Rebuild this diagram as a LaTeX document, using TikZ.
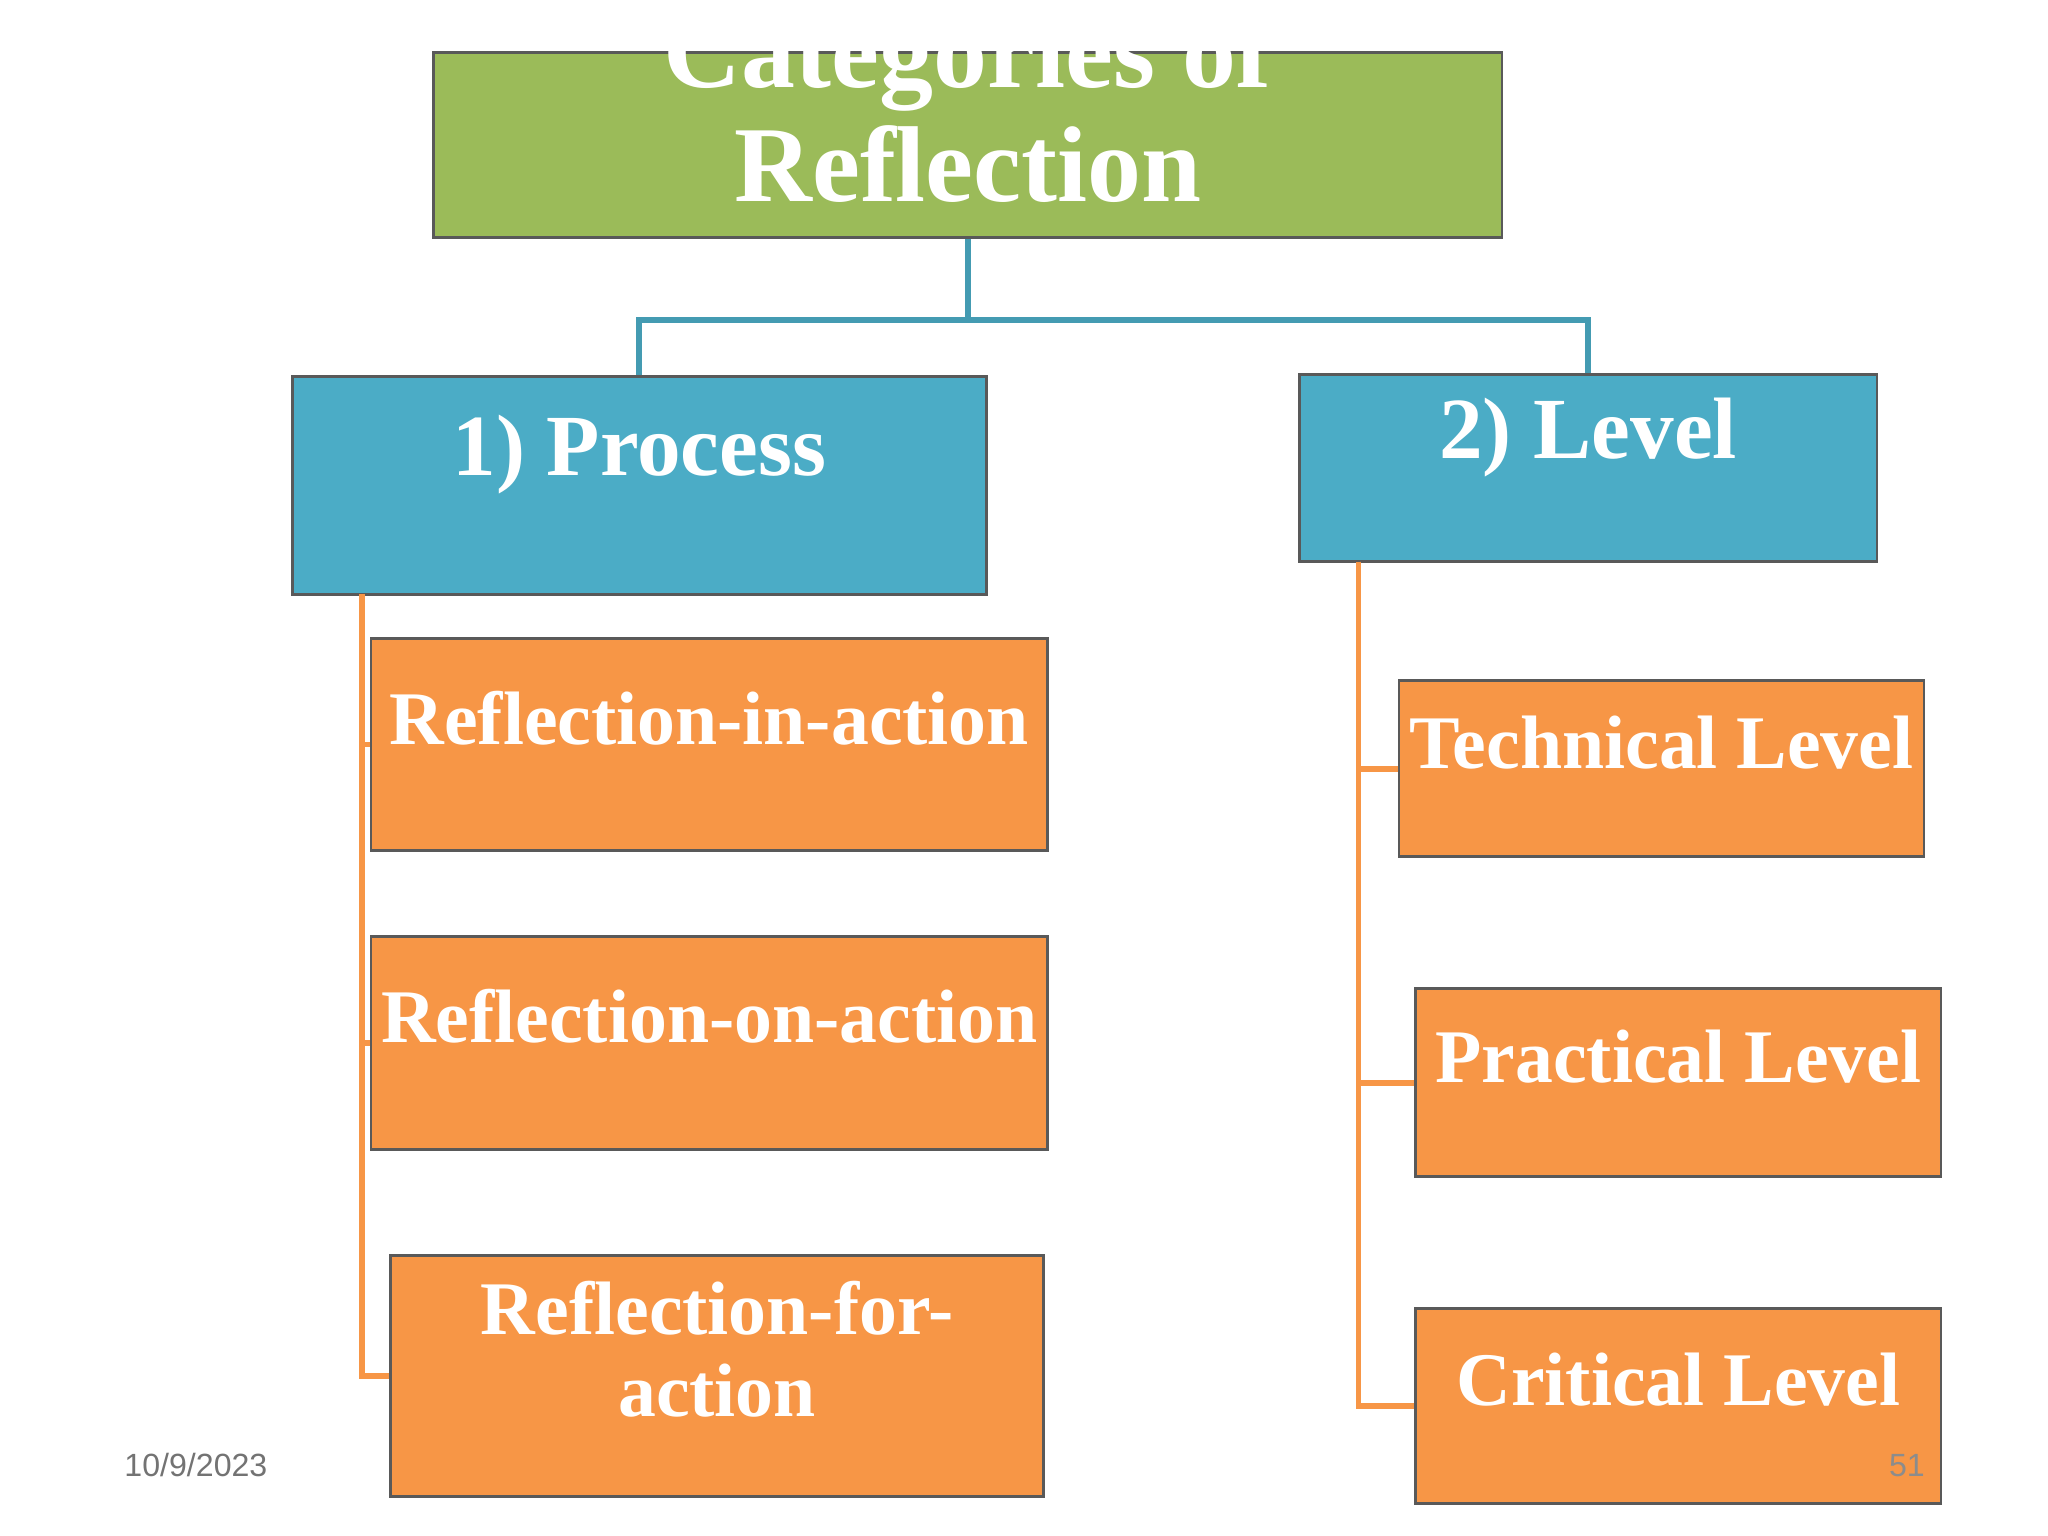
\documentclass[tikz,border=0pt]{standalone}
\usepackage{fontspec}
\setmainfont{Liberation Serif}
\newfontfamily\footfont{Liberation Sans}
\usetikzlibrary{fit}
\definecolor{tgreen}{HTML}{9BBB59}
\definecolor{tblue}{HTML}{4BACC6}
\definecolor{torange}{HTML}{F79646}
\begin{document}
\begin{tikzpicture}[x=0.02cm,y=-0.02cm,
 box/.style={draw=black!65,line width=1.2pt,inner sep=0pt,text=white,font=\bfseries},
 blink/.style={draw=tblue!90!black,line width=2.5pt},
 olink/.style={draw=torange,line width=2.5pt}]
\useasboundingbox (0,0) rectangle (1568,1176);
\node[box,fill=tgreen,fit={(332,40)(1150,182)},font=\bfseries\fontsize{47}{50}\selectfont] (t) {Categories of Reflection};
\node[box,fill=tblue,fit={(224,288)(755,455)},font=\bfseries\fontsize{38}{40}\selectfont] (p) {1) Process};
\node[box,fill=tblue,fit={(995,287)(1437,430)},font=\bfseries\fontsize{38}{40}\selectfont] (l) {2) Level};
\tikzset{ofont/.style={font=\bfseries\fontsize{33}{36}\selectfont}}
\node[box,fill=torange,fit={(284,489)(802,651)},ofont] (a) {Reflection-in-action};
\node[box,fill=torange,fit={(284,717)(802,880)},ofont] (b) {Reflection-on-action};
\node[box,fill=torange,fit={(299,961)(799,1146)},ofont] (c) {Reflection-for-action};
\node[box,fill=torange,fit={(1071,521)(1473,656)},ofont] (d) {Technical Level};
\node[box,fill=torange,fit={(1084,757)(1486,901)},ofont] (e) {Practical Level};
\node[box,fill=torange,fit={(1084,1002)(1486,1151)},ofont] (f) {Critical Level};
\coordinate (j) at (741,245);
\draw[blink] (t.south) -- (j);
\draw[blink] (j) -| (p.north);
\draw[blink] (j) -| (l.north);
\coordinate (pl) at (277,455);
\coordinate (lr) at (1040,430);
\draw[olink] (pl) |- (c.west);
\draw[olink] (pl) |- (a.west);
\draw[olink] (pl) |- (b.west);
\draw[olink] (lr) |- (f.west);
\draw[olink] (lr) |- (d.west);
\draw[olink] (lr) |- (e.west);
\node[text=black!55,font=\footfont\fontsize{14}{16}\selectfont] (date) at (150,1122) {10/9/2023};
\node[text=black!45,font=\footfont\fontsize{14}{16}\selectfont] (num) at (1460,1122) {51};
\end{tikzpicture}
\end{document}
